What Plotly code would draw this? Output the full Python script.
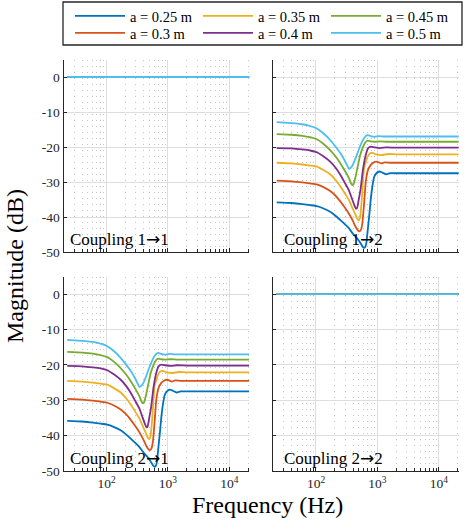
import numpy as np
import plotly.graph_objects as go

# ---------------- data ----------------
a_labels = ["a = 0.25 m", "a = 0.3 m", "a = 0.35 m", "a = 0.4 m", "a = 0.45 m", "a = 0.5 m"]
colors = ["#0072BD", "#D95319", "#EDB120", "#7E2F8E", "#77AC30", "#4DBEEE"]
legend_rank = [1, 4, 2, 5, 3, 6]          # column-major order of the 3x2 legend
legend_row = ["legend", "legend2", "legend", "legend2", "legend", "legend2"]

# cross-coupling magnitude (dB)
f_025 = [23, 40, 60, 80, 103, 130, 170, 210, 250, 300, 342, 400, 441, 500, 540, 570, 600, 630, 660,
         690, 740, 780, 830, 885, 960, 1070, 1200, 1380, 1600, 2000, 5000, 21000]
m_025 = [-35.8, -36.0, -36.3, -36.6, -36.9, -37.5, -38.5, -39.7, -40.9, -42.2, -43.2, -44.8, -45.6,
         -46.8, -47.7, -48.4, -48.8, -48.6, -47.4, -44.2, -39.0, -34.7, -31.0, -28.5, -27.5, -27.0,
         -27.3, -27.8, -27.5, -27.5, -27.5, -27.5]

f_030 = [23, 40, 60, 80, 103, 130, 170, 210, 250, 300, 342, 400, 441, 480, 510, 540, 570, 610, 645,
         700, 780, 870, 945, 1050, 1150, 1300, 1600, 2000, 5000, 21000]
m_030 = [-29.6, -29.8, -30.1, -30.4, -30.7, -31.4, -32.6, -34.0, -35.6, -37.5, -39.0, -41.2, -42.8,
         -43.8, -44.1, -43.6, -41.5, -35.5, -29.9, -26.6, -25.1, -24.4, -24.2, -24.4, -24.7, -24.4,
         -24.5, -24.5, -24.5, -24.5]

f_035 = [23, 40, 60, 80, 103, 130, 170, 210, 250, 300, 342, 400, 441, 470, 495, 520, 550, 605, 690,
         760, 830, 950, 1150, 1500, 2000, 5000, 21000]
m_035 = [-24.5, -24.7, -25.0, -25.3, -25.6, -26.5, -27.8, -29.5, -31.3, -33.5, -35.1, -37.8, -39.4,
         -40.6, -41.0, -40.2, -36.0, -26.1, -22.8, -21.8, -21.7, -22.1, -22.3, -22.0, -22.1, -22.1,
         -22.1]

f_040 = [23, 40, 60, 80, 103, 130, 170, 210, 250, 300, 342, 380, 420, 445, 465, 490, 533, 580, 645,
         700, 780, 900, 1100, 1400, 2000, 5000, 21000]
m_040 = [-20.3, -20.4, -20.7, -21.0, -21.5, -22.6, -24.2, -26.0, -28.0, -30.5, -32.3, -34.5, -36.6,
         -37.6, -37.5, -35.5, -31.8, -26.5, -22.3, -20.4, -19.9, -20.1, -20.3, -20.1, -20.2, -20.2,
         -20.2]

f_045 = [23, 40, 60, 80, 103, 130, 170, 210, 250, 300, 342, 370, 390, 410, 440, 470, 520, 570, 630,
         690, 780, 900, 1100, 1400, 2000, 5000, 21000]
m_045 = [-16.3, -16.5, -16.8, -17.2, -17.8, -19.0, -20.9, -22.8, -24.7, -27.0, -28.8, -30.3, -30.9,
         -30.5, -28.5, -26.1, -22.5, -20.4, -18.8, -18.2, -18.4, -18.5, -18.4, -18.5, -18.5, -18.5,
         -18.5]

f_050 = [23, 40, 60, 80, 103, 130, 170, 210, 250, 290, 320, 342, 365, 400, 441, 490, 533, 590, 645,
         700, 780, 900, 1050, 1250, 1600, 2500, 5000, 21000]
m_050 = [-12.9, -13.2, -13.5, -14.0, -14.7, -16.0, -18.0, -20.0, -21.8, -23.7, -25.2, -26.2, -26.0,
         -25.0, -23.2, -21.0, -19.4, -17.8, -16.9, -16.6, -16.9, -17.1, -16.9, -17.0, -17.0, -17.0,
         -17.0, -17.0]

cross_f = [f_025, f_030, f_035, f_040, f_045, f_050]
cross_m = [m_025, m_030, m_035, m_040, m_045, m_050]

# self-coupling: flat 0 dB for every a
self_f = [23, 21000]
self_m = [0, 0]

ARROW = "<span style='font-family:DejaVu Sans'>\u2192</span>"
panel_labels = ["Coupling 1" + ARROW + "1", "Coupling 1" + ARROW + "2",
                "Coupling 2" + ARROW + "1", "Coupling 2" + ARROW + "2"]
x_tickvals = [100, 1000, 10000]
x_ticktext = ["10<sup>2</sup>", "10<sup>3</sup>", "10<sup>4</sup>"]
x_minor = [20, 30, 40, 50, 60, 70, 80, 90, 200, 300, 400, 500, 600, 700, 800, 900,
           2000, 3000, 4000, 5000, 6000, 7000, 8000, 9000, 20000]
y_tickvals = [-50, -40, -30, -20, -10, 0]
y_ticktext = ["-50", "-40", "-30", "-20", "-10", "0"]

# ---------------- figure ----------------
W, H = 474, 520
FONT = "Liberation Serif, Times New Roman, serif"
AX = "#262626"

fig = go.Figure()

panels = [("x", "y", "self"), ("x2", "y2", "cross"), ("x3", "y3", "cross"), ("x4", "y4", "self")]
for p, (xa, ya, kind) in enumerate(panels):
    for i in range(6):
        if kind == "self":
            fx, my = self_f, self_m
        else:
            fx, my = cross_f[i], cross_m[i]
        fig.add_trace(go.Scatter(
            x=fx, y=my, mode="lines", xaxis=xa, yaxis=ya,
            line=dict(color=colors[i], width=1.8, shape="spline", smoothing=0.4),
            name=a_labels[i], showlegend=(p == 1), legend=legend_row[i],
            legendrank=legend_rank[i], hoverinfo="skip"))

xdom = [[63.5 / W, 249.3 / W], [273.0 / W, 458.8 / W]]
ydom = [[1 - 252.0 / H, 1 - 59.5 / H], [1 - 471.0 / H, 1 - 276.5 / H]]

def xaxis_cfg(dom, anchor, labels):
    return dict(
        type="log", domain=dom, anchor=anchor,
        range=[np.log10(20), np.log10(21000)],
        tickmode="array", tickvals=x_tickvals, ticktext=x_ticktext,
        showticklabels=labels, ticks="inside", ticklen=4, tickcolor=AX, tickwidth=1,
        showline=True, linecolor=AX, linewidth=1.3, mirror=False,
        showgrid=True, gridcolor="#dedede", gridwidth=1, zeroline=False,
        tickfont=dict(family=FONT, size=13.5, color=AX),
        minor=dict(tickmode="array", tickvals=x_minor, ticks="inside", ticklen=2.5,
                   tickcolor=AX, tickwidth=1, showgrid=True, gridcolor="#c4c4c4",
                   gridwidth=1, griddash="1px,5px"),
        automargin=False, fixedrange=True)

def yaxis_cfg(dom, anchor, labels):
    return dict(
        domain=dom, anchor=anchor, range=[-50, 5],
        tickmode="array", tickvals=y_tickvals, ticktext=y_ticktext,
        showticklabels=labels, ticks="inside", ticklen=3, tickcolor=AX, tickwidth=1,
        showline=True, linecolor=AX, linewidth=1.3, mirror=False,
        showgrid=True, gridcolor="#dedede", gridwidth=1, zeroline=False,
        tickfont=dict(family=FONT, size=13.5, color=AX),
        automargin=False, fixedrange=True)

fig.update_layout(
    width=W, height=H, margin=dict(l=0, r=0, t=0, b=0),
    paper_bgcolor="white", plot_bgcolor="white",
    font=dict(family=FONT, color="black"),
    xaxis=xaxis_cfg(xdom[0], "y", False),
    xaxis2=xaxis_cfg(xdom[1], "y2", False),
    xaxis3=xaxis_cfg(xdom[0], "y3", True),
    xaxis4=xaxis_cfg(xdom[1], "y4", True),
    yaxis=yaxis_cfg(ydom[0], "x", True),
    yaxis2=yaxis_cfg(ydom[0], "x2", False),
    yaxis3=yaxis_cfg(ydom[1], "x3", True),
    yaxis4=yaxis_cfg(ydom[1], "x4", False),
    legend=dict(orientation="h", x=70 / W, xanchor="left", y=1 - 16 / H, yanchor="middle",
                bgcolor="rgba(0,0,0,0)", borderwidth=0, itemwidth=50,
                entrywidth=63, entrywidthmode="pixels",
                font=dict(family=FONT, size=14.5, color="black"), traceorder="normal"),
    legend2=dict(orientation="h", x=70 / W, xanchor="left", y=1 - 33 / H, yanchor="middle",
                 bgcolor="rgba(0,0,0,0)", borderwidth=0, itemwidth=50,
                 entrywidth=63, entrywidthmode="pixels",
                 font=dict(family=FONT, size=14.5, color="black"), traceorder="normal"),
    showlegend=True,
)

# legend frame
fig.add_shape(type="rect", xref="paper", yref="paper",
              x0=63 / W, x1=462 / W, y0=1 - 45 / H, y1=1 - 2 / H,
              line=dict(color=AX, width=1.3), fillcolor="rgba(0,0,0,0)", layer="above")

# panel labels
label_pos = [("x", "y", 4), ("x2", "y2", 9), ("x3", "y3", 4), ("x4", "y4", 9)]
for (xa, ya, dx), txt in zip(label_pos, panel_labels):
    fig.add_annotation(text=txt, xref=xa + " domain", yref=ya + " domain", x=0, y=0,
                       xanchor="left", yanchor="bottom", xshift=dx, yshift=1, showarrow=False,
                       font=dict(family=FONT, size=17, color="black"))

# axis titles
fig.add_annotation(text="Frequency (Hz)", xref="paper", yref="paper", x=267 / W, y=1 - 505 / H,
                   xanchor="center", yanchor="middle", showarrow=False,
                   font=dict(family=FONT, size=24, color="black"))
fig.add_annotation(text="Magnitude (dB)", xref="paper", yref="paper", x=15 / W, y=1 - 266 / H,
                   xanchor="center", yanchor="middle", showarrow=False, textangle=-90,
                   font=dict(family=FONT, size=24, color="black"))

fig.write_html("out.html")
